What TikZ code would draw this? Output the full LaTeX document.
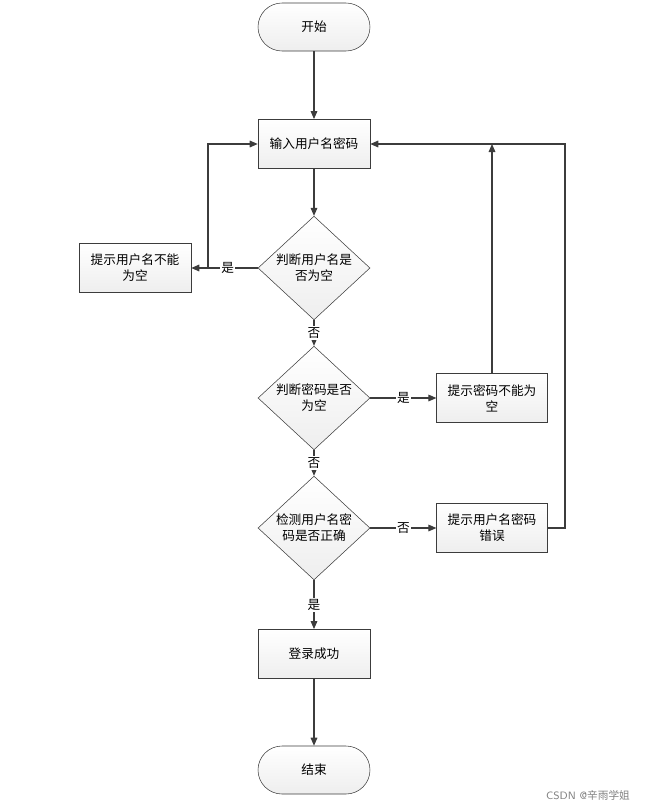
\documentclass[tikz,border=0pt]{standalone}
\usepackage{fontspec}
\newfontfamily\cjk{Noto Sans CJK SC}
\usetikzlibrary{shapes.geometric, arrows.meta}
\definecolor{boxfill}{RGB}{238,238,238}
\definecolor{edge}{RGB}{60,60,60}

\begin{document}
\begin{tikzpicture}
    [
        x=0.75pt, y=-0.75pt, >={Triangle[length=6pt,width=5pt]},
        every node/.style={font=\cjk\fontsize{9.5}{12}\selectfont},
        term/.style={draw=edge, rounded corners=18pt, top color=white, bottom color=boxfill, minimum width=84pt, minimum height=36pt},
        box/.style={draw=edge, top color=white, bottom color=boxfill, minimum width=84pt, minimum height=37pt, align=center},
        sbox/.style={box, minimum width=83pt},
        test/.style={draw=edge, diamond, top color=white, bottom color=boxfill, minimum width=84pt, minimum height=48pt, inner sep=0pt, align=center},
        lbl/.style={fill=white, inner sep=1pt}
    ]
    \tikzstyle{line} = [draw=edge, thick, ->]
    \useasboundingbox (0,0) rectangle (650,807);

    \node[term] (start) at (314,27) {开始};
    \node[box] (input) at (314,144) {输入用户名密码};
    \node[test] (chk_user) at (314,268) {判断用户名是\\否为空};
    \node[box] (msg_user) at (135,268) {提示用户名不能\\为空};
    \node[test] (chk_pwd) at (314,398) {判断密码是否\\为空};
    \node[sbox] (msg_pwd) at (492,398) {提示密码不能为\\空};
    \node[test] (chk_both) at (314,528) {检测用户名密\\码是否正确};
    \node[sbox] (msg_err) at (492,528) {提示用户名密码\\错误};
    \node[box] (login) at (314,654) {登录成功};
    \node[term] (stop) at (314,770) {结束};

    \coordinate (up_left) at (208,268);
    \coordinate (up_mid) at (492,144);
    \coordinate (up_right) at (565,528);

    \path[line] (start) -- (input);
    \path[line] (input) -- (chk_user);
    \path[line] (chk_user) -- node[lbl, pos=0.45] {是} (msg_user);
    \path[line] (up_left) |- (input);
    \path[line] (chk_user) -- node[lbl] {否} (chk_pwd);
    \path[line] (chk_pwd) -- node[lbl] {是} (msg_pwd);
    \path[line] (msg_pwd) -- (up_mid);
    \path[line] (chk_pwd) -- node[lbl] {否} (chk_both);
    \path[line] (chk_both) -- node[lbl] {否} (msg_err);
    \path[line] (msg_err) -- (up_right) |- (input);
    \path[line] (chk_both) -- node[lbl] {是} (login);
    \path[line] (login) -- (stop);

    \node[font=\fontsize{8}{10}\selectfont\sffamily, text=gray] (mark) at (588,795) {CSDN @{\cjk 辛雨学姐}};
\end{tikzpicture}
\end{document}
